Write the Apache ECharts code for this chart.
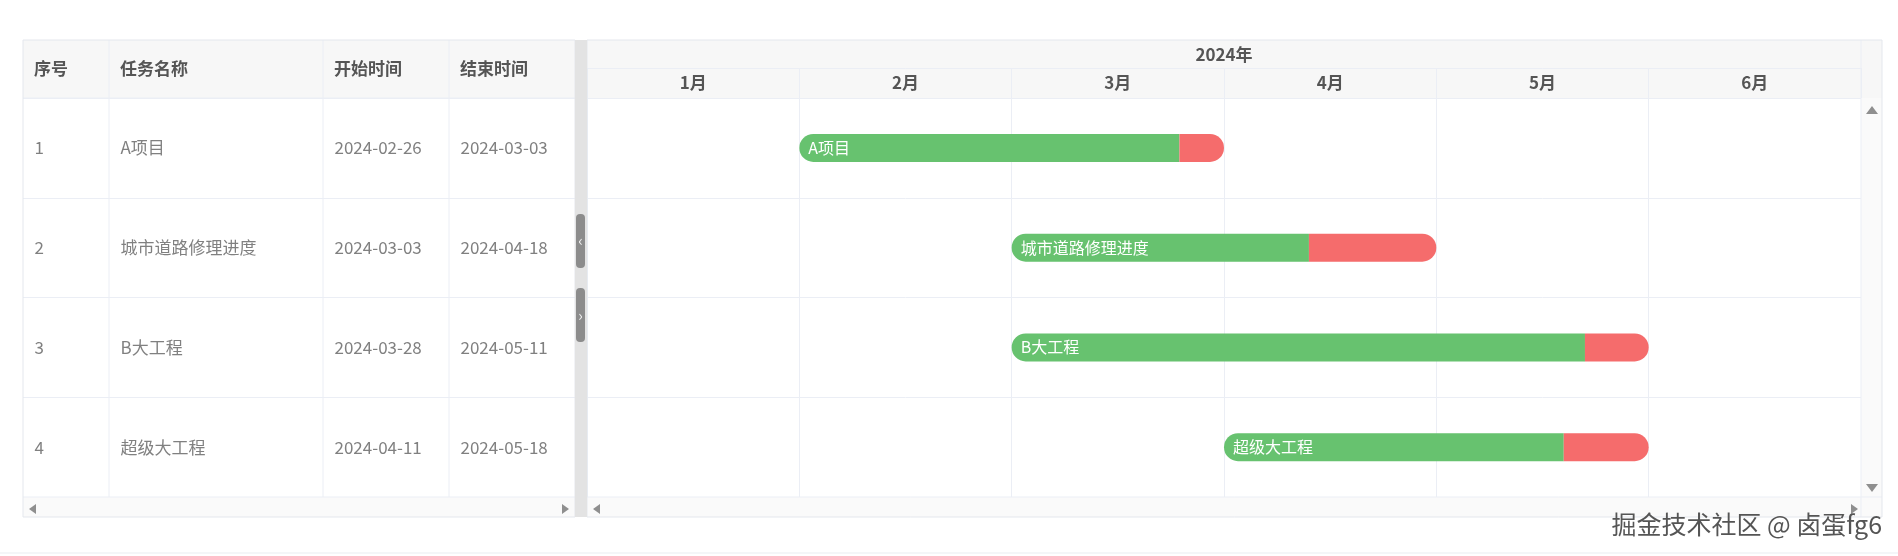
<!DOCTYPE html>
<html>
<head>
<meta charset="utf-8">
<title>甘特图</title>
<script src="https://cdn.jsdelivr.net/npm/echarts@6/dist/echarts.min.js"></script>
<style>
  html, body { margin: 0; padding: 0; background: #fff; }
  #chart { width: 1898px; height: 556px; }
</style>
</head>
<body>
<div id="chart"></div>
<script>
// 表格数据
const seqNo = ['1', '2', '3', '4'];
const taskNames = ['A项目', '城市道路修理进度', 'B大工程', '超级大工程'];
const startDates = ['2024-02-26', '2024-03-03', '2024-03-28', '2024-04-11'];
const endDates = ['2024-03-03', '2024-04-18', '2024-05-11', '2024-05-18'];
const tableHeaders = ['序号', '任务名称', '开始时间', '结束时间'];

// 时间轴
const yearLabels = ['2024年'];
const monthLabels = ['1月', '2月', '3月', '4月', '5月', '6月'];

// 条形位置（以月为单位，0 = 1月初）
const barStart = [1, 2, 2, 3];
const doneEnd = [2.79, 3.4, 4.7, 4.6];
const barEnd = [3, 4, 5, 5];

// 布局
const FONT = '"Noto Sans CJK SC", "Noto Sans", sans-serif';
const BORDER = '#ebeef5';
const HEAD_BG = '#f7f7f7';
const TOP = 40, HEAD_BOTTOM = 98, BODY_BOTTOM = 497, BOTTOM = 517;
const TABLE_L = 23, TABLE_R = 575, GANTT_L = 587, GANTT_R = 1861, PANEL_R = 1882;
const colEdges = [23, 109, 323, 449, 575];
const cellPad = 11;

const chart = echarts.init(document.getElementById('chart'));

const tableColumns = [seqNo, taskNames, startDates, endDates];
const tableSeries = tableColumns.map((col, c) => ({
  type: 'scatter',
  xAxisIndex: 3,
  yAxisIndex: 1,
  silent: true,
  symbolSize: 1,
  itemStyle: { color: 'transparent' },
  label: {
    show: true,
    position: 'right',
    distance: 0,
    formatter: (p) => p.data[2],
    color: '#606060',
    fontSize: 17,
    fontFamily: FONT,
  },
  data: col.map((txt, i) => [colEdges[c] + cellPad, i, txt]),
}));

const hLine = (x1, x2, y, z) => ({
  type: 'line', z: z || 10, silent: true,
  shape: { x1, y1: y, x2, y2: y },
  style: { stroke: BORDER, lineWidth: 1 },
});
const vLine = (x, y1, y2, z) => ({
  type: 'line', z: z || 10, silent: true,
  shape: { x1: x, y1, x2: x, y2 },
  style: { stroke: BORDER, lineWidth: 1 },
});
const arrow = (pts) => ({
  type: 'polygon', z: 12, silent: true,
  shape: { points: pts },
  style: { fill: '#8f8f8f' },
});

const graphics = [
  // 表头背景
  { type: 'rect', z: -1, silent: true, shape: { x: TABLE_L, y: TOP, width: TABLE_R - TABLE_L, height: HEAD_BOTTOM - TOP }, style: { fill: HEAD_BG } },
  { type: 'rect', z: -1, silent: true, shape: { x: GANTT_L, y: TOP, width: PANEL_R - GANTT_L, height: HEAD_BOTTOM - TOP }, style: { fill: HEAD_BG } },
  // 表头文字
  ...tableHeaders.map((h, c) => ({
    type: 'text', z: 11, silent: true,
    style: {
      text: h, x: colEdges[c] + cellPad, y: 69,
      verticalAlign: 'middle', fill: '#555',
      fontSize: 17, fontWeight: 'bold', fontFamily: FONT,
    },
  })),
  // 表格列线
  ...colEdges.slice(1, -1).map((x) => vLine(x, TOP, BODY_BOTTOM)),
  hLine(TABLE_L, TABLE_R, HEAD_BOTTOM),
  // 滚动条
  { type: 'rect', z: 9, silent: true, shape: { x: TABLE_L, y: BODY_BOTTOM, width: TABLE_R - TABLE_L, height: BOTTOM - BODY_BOTTOM }, style: { fill: '#fafafa' } },
  { type: 'rect', z: 9, silent: true, shape: { x: GANTT_L, y: BODY_BOTTOM, width: PANEL_R - GANTT_L, height: BOTTOM - BODY_BOTTOM }, style: { fill: '#fafafa' } },
  { type: 'rect', z: 9, silent: true, shape: { x: GANTT_R, y: HEAD_BOTTOM, width: PANEL_R - GANTT_R, height: BODY_BOTTOM - HEAD_BOTTOM }, style: { fill: '#fafafa' } },
  hLine(TABLE_L, TABLE_R, BODY_BOTTOM),
  hLine(GANTT_L, PANEL_R, BODY_BOTTOM),
  vLine(GANTT_R, TOP, BOTTOM),
  arrow([[29, 509], [36, 504], [36, 514]]),
  arrow([[569, 509], [562, 504], [562, 514]]),
  arrow([[593, 509], [600, 504], [600, 514]]),
  arrow([[1858, 509], [1851, 504], [1851, 514]]),
  arrow([[1872, 106], [1866, 114], [1878, 114]]),
  arrow([[1872, 492], [1866, 484], [1878, 484]]),
  // 外框
  { type: 'rect', z: 10, silent: true, shape: { x: TABLE_L, y: TOP, width: TABLE_R - TABLE_L, height: BOTTOM - TOP }, style: { fill: 'none', stroke: '#e4e7ed', lineWidth: 1 } },
  { type: 'rect', z: 10, silent: true, shape: { x: GANTT_L, y: TOP, width: PANEL_R - GANTT_L, height: BOTTOM - TOP }, style: { fill: 'none', stroke: '#e4e7ed', lineWidth: 1 } },
  // 分隔条
  { type: 'rect', z: 13, silent: true, shape: { x: TABLE_R, y: TOP, width: GANTT_L - TABLE_R, height: BOTTOM - TOP }, style: { fill: '#e3e3e3' } },
  { type: 'rect', z: 14, silent: true, shape: { x: 576, y: 214, width: 9, height: 54, r: 4 }, style: { fill: '#8c8c8c' } },
  { type: 'rect', z: 14, silent: true, shape: { x: 576, y: 288, width: 9, height: 54, r: 4 }, style: { fill: '#8c8c8c' } },
  { type: 'text', z: 15, silent: true, style: { text: '‹', x: 580.5, y: 240, align: 'center', verticalAlign: 'middle', fill: '#f0f0f0', fontSize: 15, fontFamily: FONT } },
  { type: 'text', z: 15, silent: true, style: { text: '›', x: 580.5, y: 315, align: 'center', verticalAlign: 'middle', fill: '#f0f0f0', fontSize: 15, fontFamily: FONT } },
  // 水印
  {
    type: 'text', z: 20, silent: true,
    style: {
      text: '掘金技术社区 @ 卤蛋fg6', x: 1882, y: 524,
      align: 'right', verticalAlign: 'middle',
      fill: '#555', fontSize: 25, fontFamily: FONT,
      shadowColor: 'rgba(0,0,0,0.35)', shadowOffsetX: 1, shadowOffsetY: 1, shadowBlur: 1,
    },
  },
  { type: 'line', z: 1, silent: true, shape: { x1: 0, y1: 553, x2: 1898, y2: 553 }, style: { stroke: '#f4f6f8', lineWidth: 2 } },
];

const option = {
  backgroundColor: '#fff',
  animation: false,
  textStyle: { fontFamily: FONT },
  grid: [
    { left: GANTT_L, top: HEAD_BOTTOM, width: GANTT_R - GANTT_L, height: BODY_BOTTOM - HEAD_BOTTOM },
    { left: TABLE_L, top: HEAD_BOTTOM, width: TABLE_R - TABLE_L, height: BODY_BOTTOM - HEAD_BOTTOM },
  ],
  xAxis: [
    {
      gridIndex: 0, type: 'value', min: 0, max: monthLabels.length, interval: 1,
      axisLine: { show: false }, axisTick: { show: false }, axisLabel: { show: false },
      splitLine: { show: true, lineStyle: { color: BORDER } },
    },
    {
      gridIndex: 0, type: 'category', position: 'top', data: monthLabels, z: 5,
      axisLine: { show: true, lineStyle: { color: BORDER } },
      axisTick: { show: true, length: 30, lineStyle: { color: BORDER } },
      axisLabel: { margin: 7, color: '#555', fontSize: 17, fontWeight: 'bold', fontFamily: FONT },
      splitLine: { show: false },
    },
    {
      gridIndex: 0, type: 'category', position: 'top', offset: 30, data: yearLabels, z: 5,
      axisLine: { show: true, lineStyle: { color: BORDER } },
      axisTick: { show: false },
      axisLabel: { margin: 5, color: '#555', fontSize: 17, fontWeight: 'bold', fontFamily: FONT },
      splitLine: { show: false },
    },
    {
      gridIndex: 1, type: 'value', min: TABLE_L, max: TABLE_R,
      show: false, splitLine: { show: false },
    },
  ],
  yAxis: [
    {
      gridIndex: 0, type: 'category', data: seqNo, inverse: true,
      axisLine: { show: false }, axisTick: { show: false }, axisLabel: { show: false },
      splitLine: { show: true, lineStyle: { color: BORDER } },
    },
    {
      gridIndex: 1, type: 'category', data: seqNo, inverse: true,
      axisLine: { show: false }, axisTick: { show: false }, axisLabel: { show: false },
      splitLine: { show: true, lineStyle: { color: BORDER } },
    },
  ],
  series: [
    {
      name: '起点', type: 'bar', stack: 'task', xAxisIndex: 0, yAxisIndex: 0,
      barWidth: 28, silent: true,
      itemStyle: { color: 'transparent' },
      data: barStart,
    },
    {
      name: '已完成', type: 'bar', stack: 'task', xAxisIndex: 0, yAxisIndex: 0,
      barWidth: 28,
      itemStyle: { color: '#67c26f', borderRadius: [14, 0, 0, 14] },
      label: {
        show: true, position: 'insideLeft', distance: 9,
        formatter: (p) => taskNames[p.dataIndex],
        color: '#fff', fontSize: 16, fontFamily: FONT,
      },
      data: doneEnd.map((v, i) => +(v - barStart[i]).toFixed(2)),
    },
    {
      name: '剩余', type: 'bar', stack: 'task', xAxisIndex: 0, yAxisIndex: 0,
      barWidth: 28,
      itemStyle: { color: '#f56c6c', borderRadius: [0, 14, 14, 0] },
      data: barEnd.map((v, i) => +(v - doneEnd[i]).toFixed(2)),
    },
    ...tableSeries,
  ],
  graphic: { elements: graphics },
};

chart.setOption(option);
window.addEventListener('resize', () => chart.resize());
</script>
</body>
</html>
